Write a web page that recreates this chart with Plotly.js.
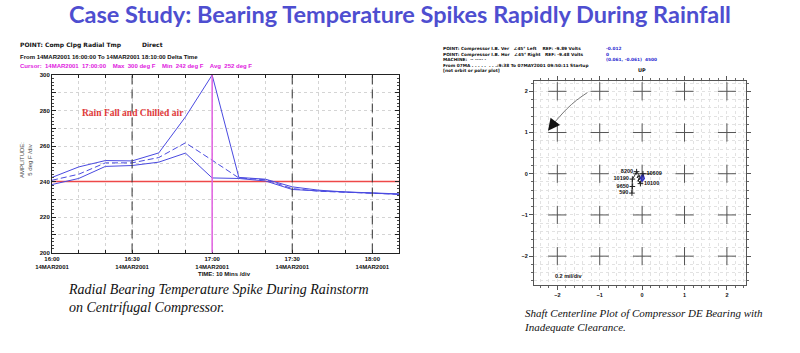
<!DOCTYPE html>
<html><head><meta charset="utf-8">
<script src="https://cdn.plot.ly/plotly-3.0.1.min.js"></script>
<style>html,body{margin:0;padding:0;background:#fff}#chart{width:800px;height:353px}</style>
</head><body><div id="chart"></div>
<script>
// ---------- Left chart data (temperature trend) ----------
const times = ['16:00','16:10','16:20','16:30','16:40','16:50','17:00','17:10','17:20','17:30','17:40','17:50','18:00','18:10'];
const maxTemp = [242.3,248.2,251.8,251.6,256.1,276.4,300,242.3,241.3,237.0,235.1,234.1,233.6,233.0];
const avgTemp = [240.7,244.1,250.5,250.5,253.5,261.8,252,242.0,241.0,236.0,234.5,233.8,233.3,232.8];
const minTemp = [238.3,241.7,248.5,249.0,250.9,256.0,242,241.7,240.3,235.5,234.7,234.0,233.4,232.8];
const majorTimes = ['16:00','16:30','17:00','17:30','18:00'];
const dateLabel = '14MAR2001';
const yTickVals = [200,210,220,230,240,250,260,270,280,290,300];
const yTickText = ['200','','220','','240','','260','','280','','300'];
const dashedTimes = ['16:30','17:30','18:00'];
const cursorTime = '17:00';
const alarmLevel = 240;

// ---------- Right chart data (shaft centerline) ----------
const gridPos = [-2,-1,0,1,2];
const rpmLabels = ['590','9650','10190','8200','10609','10100'];
const rpmX = [-0.24,-0.23,-0.23,-0.13,0.02,-0.04];
const rpmY = [-0.47,-0.31,-0.13,0.05,0.0,-0.24];
const rpmTextPos = ['middle left','middle left','middle left','middle left','middle right','middle right'];
const pathX = [-0.24,-0.23,-0.23,-0.18,-0.13,-0.08,-0.12,-0.05,-0.10,-0.02,-0.07,0.02,-0.04,-0.09,-0.04];
const pathY = [-0.47,-0.31,-0.13,-0.05,0.05,-0.02,-0.10,-0.04,-0.18,-0.08,-0.14,0.0,-0.24,-0.16,-0.24];
const bluePathX = [-0.04,0.02,0.05,0.0,-0.04];
const bluePathY = [-0.10,-0.02,-0.12,-0.18,-0.10];
const arrowX = [-1.29,-1.55,-1.78,-1.95,-2.07];
const arrowY = [1.97,1.78,1.57,1.38,1.24];
const arrowTip = [-2.22,1.04];

const d = t => '2001-03-14 ' + t + ':00';
const px = x => x/800, py = y => 1 - y/353;
const blue = '#4a4ae0';

const traces = [
  {x: [d(times[0]), d(times[times.length-1])], y: [alarmLevel, alarmLevel], xaxis:'x', yaxis:'y', mode:'lines', line:{color:'#ee4848', width:1.3}},
  {x: times.map(d), y: maxTemp, xaxis:'x', yaxis:'y', mode:'lines', line:{color:blue, width:1}},
  {x: times.map(d), y: avgTemp, xaxis:'x', yaxis:'y', mode:'lines', line:{color:blue, width:1, dash:'6px,3px'}},
  {x: times.map(d), y: minTemp, xaxis:'x', yaxis:'y', mode:'lines', line:{color:blue, width:1}},
];
const cx = [], cy = [];
gridPos.forEach(a => gridPos.forEach(b => { cx.push(a); cy.push(b); }));
traces.push({x:cx, y:cy, xaxis:'x2', yaxis:'y2', mode:'markers',
  marker:{symbol:'cross-thin', size:13, color:'#555', line:{color:'#555', width:1}}});
traces.push({x:pathX, y:pathY, xaxis:'x2', yaxis:'y2', mode:'lines', line:{color:'#222', width:1}});
traces.push({x:bluePathX, y:bluePathY, xaxis:'x2', yaxis:'y2', mode:'lines', line:{color:'#3030c0', width:1.5}, fill:'toself', fillcolor:'rgba(60,60,200,0.6)'});
traces.push({x:rpmX, y:rpmY, xaxis:'x2', yaxis:'y2', mode:'markers+text', text:rpmLabels, textposition:rpmTextPos,
  textfont:{size:5.5, family:'Liberation Sans', color:'#111', weight:'bold'},
  marker:{symbol:'cross-thin', size:4, color:'#222', line:{color:'#222', width:1}}});
traces.push({x:arrowX, y:arrowY, xaxis:'x2', yaxis:'y2', mode:'lines', line:{color:'#777', width:1, shape:'spline'}});

const tickFont = {size:6, family:'Liberation Sans', color:'#111', weight:'bold'};
const tinyFont = {size:5.5, family:'Liberation Sans', color:'#111', weight:'bold'};

const xTickVals = times.slice(0,13).map(d);
const xTickText = times.slice(0,13).map(t => majorTimes.includes(t) ? t + '<br>' + dateLabel : '');

const shapes = [];
dashedTimes.forEach(t => shapes.push({type:'line', xref:'x', yref:'y domain', x0:d(t), x1:d(t), y0:0, y1:1,
  line:{color:'#333', width:1, dash:'9px,5px'}}));
shapes.push({type:'line', xref:'x', yref:'y domain', x0:d(cursorTime), x1:d(cursorTime), y0:0, y1:1, line:{color:'#e060e0', width:1.5}});

const ann = (text, x, y, font, extra) => Object.assign({text, x:px(x), y:py(y), xref:'paper', yref:'paper', xanchor:'left', yanchor:'middle', showarrow:false, font}, extra||{});
const hdrFont = {size:6, family:'Liberation Sans', color:'#111', weight:'bold'};
const magFont = {size:6, family:'Liberation Sans', color:'#e020e0', weight:'bold'};
const rhFont = {size:4.3, family:'DejaVu Sans', color:'#111', weight:'bold'};
const rbFont = {size:4.3, family:'DejaVu Sans', color:'#2a2ad0', weight:'bold'};

const annotations = [
  ann('POINT: Comp Clpg Radial Tmp          Direct', 18, 45, {size:6, family:'DejaVu Sans', color:'#111', weight:'bold'}),
  ann('From 14MAR2001 16:00:00 To 14MAR2001 18:10:00 Delta Time', 18, 57.5, hdrFont),
  ann('Cursor:  14MAR2001  17:00:00    Max  300 deg F    Min  242 deg F    Avg  252 deg F', 18, 65.5, magFont),
  ann('AMPLITUDE:<br>5 deg F /div', 26, 160, {size:6, family:'Liberation Sans', color:'#444'}, {textangle:-90, xanchor:'center'}),
  ann('TIME: 10 Mins /div', 224, 274, hdrFont, {xanchor:'center'}),
  ann('Rain Fall and Chilled air', 80, 113, {size:9.5, family:'Liberation Serif', color:'#e03a3a', weight:'bold'}),
  ann('<i>Radial Bearing Temperature Spike During Rainstorm<br>on Centrifugal Compressor.</i>', 66, 298, {size:14, family:'Liberation Serif', color:'#111'}, {align:'left'}),
  ann('POINT: Compressor I.B. Ver   ∠45° Left    REF: -9.89 Volts<br>POINT: Compressor I.B. Hor   ∠45° Right   REF: -9.48 Volts<br>MACHINE:  ·· ····· ·<br>From 07MA . . . . .  . . .:9:38 To 07MAY2001 09:50:11 Startup<br>[not orbit or polar plot]',
      441, 43.5, rhFont, {yanchor:'top', align:'left'}),
  ann('-0.012<br>0<br>(0.061, -0.061)  4500', 604, 43.5, rbFont, {yanchor:'top', align:'left'}),
  ann('UP', 642, 70, {size:5, family:'DejaVu Sans', color:'#111', weight:'bold'}, {xanchor:'center'}),
  {text:'0.2 mil/div', x:-2.1, y:-2.49, xref:'x2', yref:'y2', xanchor:'left', yanchor:'middle', showarrow:false, font:tinyFont},
  {text:'', x:arrowTip[0], y:arrowTip[1], ax:arrowX[arrowX.length-1], ay:arrowY[arrowY.length-1], xref:'x2', yref:'y2', axref:'x2', ayref:'y2',
   showarrow:true, arrowhead:2, arrowsize:2, arrowwidth:1.2, arrowcolor:'#111'},
  ann('<i>Shaft Centerline Plot of Compressor DE Bearing with<br>Inadequate Clearance.</i>', 522, 320, {size:11, family:'Liberation Serif', color:'#111'}, {align:'left'}),
];

const layout = {
  width:800, height:353, margin:{l:0,r:0,t:0,b:0}, paper_bgcolor:'#fff', plot_bgcolor:'#fff', showlegend:false,
  title:{text:'Case Study: Bearing Temperature Spikes Rapidly During Rainfall', font:{family:'Lato', size:23.5, color:'#4e4ed0', weight:'bold'},
    x:0.5, xanchor:'center', y:1-15/353, yanchor:'middle', yref:'container'},
  xaxis:{type:'date', domain:[px(52), px(399)], range:[d('16:00'), d('18:10')], anchor:'y',
    tickmode:'array', tickvals:xTickVals, ticktext:xTickText, ticks:'inside', ticklen:3, tickcolor:'#222',
    showline:true, linecolor:'#222', linewidth:1, mirror:'ticks', showgrid:true, gridcolor:'#d4d4d4', griddash:'dot', gridwidth:1,
    zeroline:false, tickfont:tickFont, tickangle:0},
  yaxis:{domain:[py(252.5), py(75)], range:[200,300], anchor:'x',
    tickmode:'array', tickvals:yTickVals, ticktext:yTickText, ticks:'inside', ticklen:4, tickcolor:'#222',
    minor:{dtick:2, tick0:200, ticks:'inside', ticklen:2, tickcolor:'#444', showgrid:false},
    showline:true, linecolor:'#222', linewidth:1, mirror:'ticks', showgrid:true, gridcolor:'#d4d4d4', griddash:'dot',
    zeroline:false, tickfont:tickFont},
  xaxis2:{domain:[px(534), px(746)], range:[-2.55,2.45], anchor:'y2', tickvals:gridPos, ticks:'outside', ticklen:4, tickcolor:'#555',
    minor:{dtick:0.2, tick0:0, ticks:'outside', ticklen:2, tickcolor:'#666', showgrid:true, gridcolor:'#e2e2e2', griddash:'dot'},
    showline:true, linecolor:'#555', linewidth:1, mirror:'ticks', showgrid:true, gridcolor:'#e2e2e2', griddash:'dot',
    zeroline:false, tickfont:tinyFont},
  yaxis2:{domain:[py(285), py(81)], range:[-2.7,2.25], anchor:'x2', tickvals:gridPos, ticks:'outside', ticklen:4, tickcolor:'#555',
    minor:{dtick:0.2, tick0:0, ticks:'outside', ticklen:2, tickcolor:'#666', showgrid:true, gridcolor:'#e2e2e2', griddash:'dot'},
    showline:true, linecolor:'#555', linewidth:1, mirror:'ticks', showgrid:true, gridcolor:'#e2e2e2', griddash:'dot',
    zeroline:false, tickfont:tinyFont},
  shapes, annotations
};
Plotly.newPlot('chart', traces, layout, {staticPlot:true, displayModeBar:false});
</script></body></html>
